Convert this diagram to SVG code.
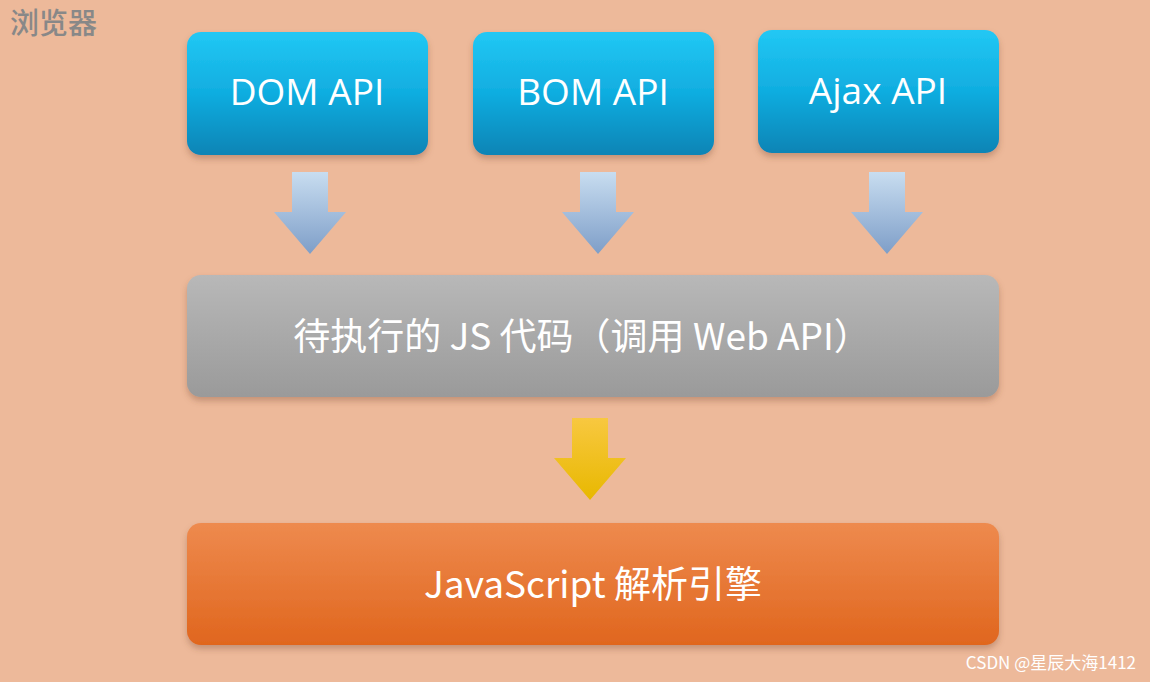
<svg xmlns="http://www.w3.org/2000/svg" width="1150" height="682" viewBox="0 0 1150 682">
<defs>
<linearGradient id="gb" x1="0" y1="0" x2="0" y2="1"><stop offset="0" stop-color="#22C8F4"/><stop offset="0.5" stop-color="#10ADE0"/><stop offset="1" stop-color="#0A84B5"/></linearGradient>
<linearGradient id="gg" x1="0" y1="0" x2="0" y2="1"><stop offset="0" stop-color="#B8B8B8"/><stop offset="1" stop-color="#9A9A9A"/></linearGradient>
<linearGradient id="go" x1="0" y1="0" x2="0" y2="1"><stop offset="0" stop-color="#EE8A4E"/><stop offset="1" stop-color="#E0661E"/></linearGradient>
<linearGradient id="ga" x1="0" y1="0" x2="0" y2="1"><stop offset="0" stop-color="#C8DDF0"/><stop offset="1" stop-color="#7E9EC8"/></linearGradient>
<linearGradient id="gy" x1="0" y1="0" x2="0" y2="1"><stop offset="0" stop-color="#F8C840"/><stop offset="1" stop-color="#E8B800"/></linearGradient>
<filter id="sh" x="-5%" y="-10%" width="110%" height="130%"><feDropShadow dx="0" dy="4" stdDeviation="3" flood-color="#7a4a30" flood-opacity="0.35"/></filter>
</defs>
<style>
.t{font-family:"Open Sans","Noto Sans","Noto Sans CJK SC",sans-serif;fill:#fff;font-size:37px;text-anchor:middle}
.c{font-family:"Noto Sans CJK SC",sans-serif;fill:#fff;font-size:37px;text-anchor:middle}
</style>
<rect width="1150" height="682" fill="#EDB99A"/>
<text x="10" y="34" font-family="Noto Sans CJK SC,sans-serif" font-size="29" fill="#888" font-weight="500">浏览器</text>
<g id="dom"><rect x="187" y="32" width="241" height="123" rx="14" fill="url(#gb)" filter="url(#sh)"/><text class="t" x="307" y="105">DOM API</text></g>
<g id="bom"><rect x="473" y="32" width="241" height="123" rx="14" fill="url(#gb)" filter="url(#sh)"/><text class="t" x="593" y="105">BOM API</text></g>
<g id="ajax"><rect x="758" y="30" width="241" height="123" rx="14" fill="url(#gb)" filter="url(#sh)"/><text class="t" x="878" y="104">Ajax API</text></g>
<g id="code"><rect x="187" y="275" width="812" height="122" rx="14" fill="url(#gg)" filter="url(#sh)"/><text class="c" x="582" y="350">待执行的 JS 代码（调用 Web API）</text></g>
<g id="engine"><rect x="187" y="523" width="812" height="122" rx="14" fill="url(#go)" filter="url(#sh)"/><text class="c" x="593" y="598">JavaScript 解析引擎</text></g>
<g id="connectors">
<path d="M292 172 h36 v40 h18 l-36 42 l-36 -42 h18 z" fill="url(#ga)"/>
<path d="M580 172 h36 v40 h18 l-36 42 l-36 -42 h18 z" fill="url(#ga)"/>
<path d="M869 172 h36 v40 h18 l-36 42 l-36 -42 h18 z" fill="url(#ga)"/>
<path d="M572 418 h36 v40 h18 l-36 42 l-36 -42 h18 z" fill="url(#gy)"/>
</g>
<text x="1136" y="669" font-family="Noto Sans CJK SC,sans-serif" font-size="17" fill="#fff" text-anchor="end">CSDN @星辰大海1412</text>
</svg>
